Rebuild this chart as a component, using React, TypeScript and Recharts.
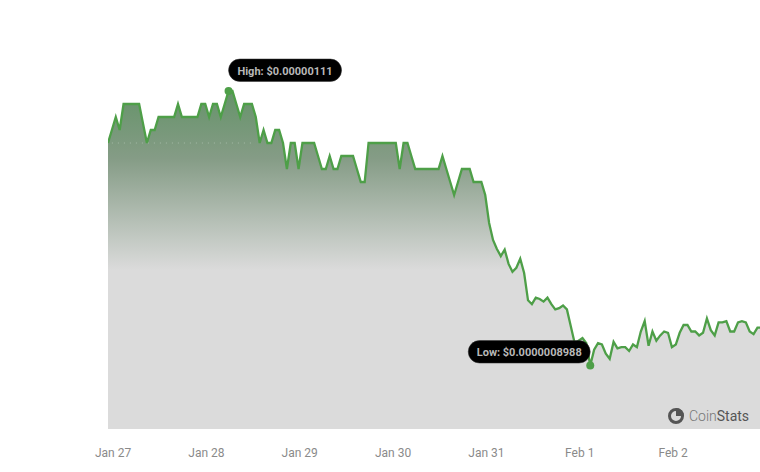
import { Area, AreaChart, ReferenceDot, ReferenceLine, XAxis, YAxis } from 'recharts';

// prices in millionths of a dollar, one point per hour
const firstStretch = [
  1.07, 1.08, 1.09, 1.08, 1.1, 1.1, 1.1, 1.1, 1.1, 1.085, 1.07, 1.08, 1.08, 1.09, 1.09, 1.09, 1.09, 1.09, 1.1, 1.09,
  1.09, 1.09, 1.09, 1.09, 1.1, 1.1, 1.09, 1.1, 1.1, 1.09, 1.1, 1.11, 1.11, 1.1, 1.09, 1.1, 1.1, 1.1, 1.09, 1.07,
  1.08, 1.07, 1.07, 1.08, 1.08, 1.07, 1.05, 1.07, 1.07, 1.05, 1.07, 1.07, 1.07, 1.07, 1.06, 1.05, 1.05, 1.06, 1.05, 1.05,
  1.06, 1.06, 1.06, 1.06, 1.05, 1.04, 1.04, 1.07, 1.07, 1.07, 1.07, 1.07, 1.07, 1.07, 1.07, 1.05, 1.07, 1.07, 1.06, 1.05,
  1.05, 1.05, 1.05, 1.05, 1.05, 1.05, 1.06, 1.05, 1.04, 1.03, 1.04, 1.05, 1.05, 1.05, 1.04, 1.04, 1.04, 1.03,
];
const drop = [
  1.0085, 0.9954, 0.9885, 0.983, 0.988, 0.977, 0.971, 0.974, 0.981, 0.97, 0.949, 0.946, 0.951, 0.95, 0.948, 0.951,
  0.946, 0.942, 0.943, 0.945, 0.942, 0.929, 0.916, 0.918, 0.92, 0.916, 0.8988,
];
const lastStretch = [
  0.911, 0.916, 0.915, 0.908, 0.904, 0.917, 0.912, 0.913, 0.913, 0.91, 0.915, 0.913, 0.925, 0.933, 0.914, 0.925, 0.918,
  0.922, 0.925, 0.924, 0.913, 0.915, 0.924, 0.93, 0.93, 0.925, 0.925, 0.922, 0.924, 0.935, 0.926, 0.922, 0.932, 0.932,
  0.933, 0.925, 0.925, 0.932, 0.933, 0.932, 0.925, 0.923, 0.928, 0.928,
];
const prices = [...firstStretch, ...drop, ...lastStretch];

const tickHours = [1.3, 25.3, 49.3, 73.3, 97.3, 121.3, 145.3];
const tickLabels = ['Jan 27', 'Jan 28', 'Jan 29', 'Jan 30', 'Jan 31', 'Feb 1', 'Feb 2'];
const highLabel = 'High: $0.00000111';
const lowLabel = 'Low: $0.0000008988';
const highPoint = { hour: 31, price: 1.11 };
const lowPoint = { hour: 124, price: 0.8988 };

const chartData = prices.map((price, hour) => ({ hour, price }));

const GREEN = '#4e9f48';
const FONT = 'Roboto, sans-serif';

function Marker({ cx, cy, text, side }: any) {
  const w = side === 'right' ? 113 : 122;
  const left = side === 'right' ? cx : cx - w;
  const top = side === 'right' ? cy - 32 : cy - 25;
  return (
    <g>
      <circle cx={cx} cy={cy} r={4} fill={GREEN} />
      <rect x={left} y={top} width={w} height={22.5} rx={11.25} fill="#000" stroke="#333" strokeWidth={0.5} />
      <text
        x={left + w / 2}
        y={top + 15.5}
        textAnchor="middle"
        fontFamily={FONT}
        fontSize={11}
        fontWeight={700}
        fill="#b8b8b8"
      >
        {text}
      </text>
    </g>
  );
}

// watermark sits above the chart layers
function Watermark() {
  return (
    <svg width={760} height={472} style={{ position: 'absolute', left: 0, top: 0, pointerEvents: 'none' }}>
      <circle cx={676} cy={416} r={6.5} fill="none" stroke="#555" strokeWidth={3} />
      <path d="M676 408 A8 8 0 0 1 684 416 L676 416 Z" fill="#555" />
      <text x={689} y={421} fontFamily={FONT} fontSize={14} fontWeight={300} fill="#777">
        Coin<tspan fill="#555" fontWeight={400}>Stats</tspan>
      </text>
    </svg>
  );
}

export default function App() {
  return (
    <div style={{ position: 'absolute', left: 0, top: 0, width: 760, height: 472, background: '#fff' }}>
      <AreaChart
        width={760}
        height={472}
        data={chartData}
        margin={{ top: 39, right: 0, bottom: 13, left: 108 }}
      >
        <defs>
          <linearGradient id="priceFill" x1="0" y1="0" x2="0" y2="1">
            <stop offset="0" stopColor="#659369" />
            <stop offset="0.2" stopColor="#859c86" />
            <stop offset="0.53" stopColor="#dbdbdb" />
            <stop offset="1" stopColor="#dbdbdb" />
          </linearGradient>
        </defs>
        <XAxis
          dataKey="hour"
          type="number"
          domain={[0, 167.65]}
          allowDataOverflow
          ticks={tickHours}
          tickFormatter={(_v: number, i: number) => tickLabels[i]}
          interval={0}
          axisLine={false}
          tickLine={false}
          tick={{ fontSize: 12, fontFamily: FONT, fill: '#8a8a8a' }}
          tickMargin={13}
        />
        <YAxis hide domain={[0.85, 1.15]} />
        <Area
          type="linear"
          dataKey="price"
          stroke={GREEN}
          strokeWidth={2.3}
          fill="url(#priceFill)"
          fillOpacity={1}
          dot={false}
          activeDot={false}
          isAnimationActive={false}
        />
        <ReferenceLine
          segment={[
            { x: 1, y: 1.07 },
            { x: 38, y: 1.07 },
          ]}
          stroke="#cfdccf"
          strokeOpacity={0.5}
          strokeWidth={1}
          strokeDasharray="1 5"
        />
        <ReferenceDot
          x={highPoint.hour}
          y={highPoint.price}
          shape={(p: any) => <Marker {...p} text={highLabel} side="right" />}
        />
        <ReferenceDot
          x={lowPoint.hour}
          y={lowPoint.price}
          shape={(p: any) => <Marker {...p} text={lowLabel} side="left" />}
        />
      </AreaChart>
      <Watermark />
    </div>
  );
}
